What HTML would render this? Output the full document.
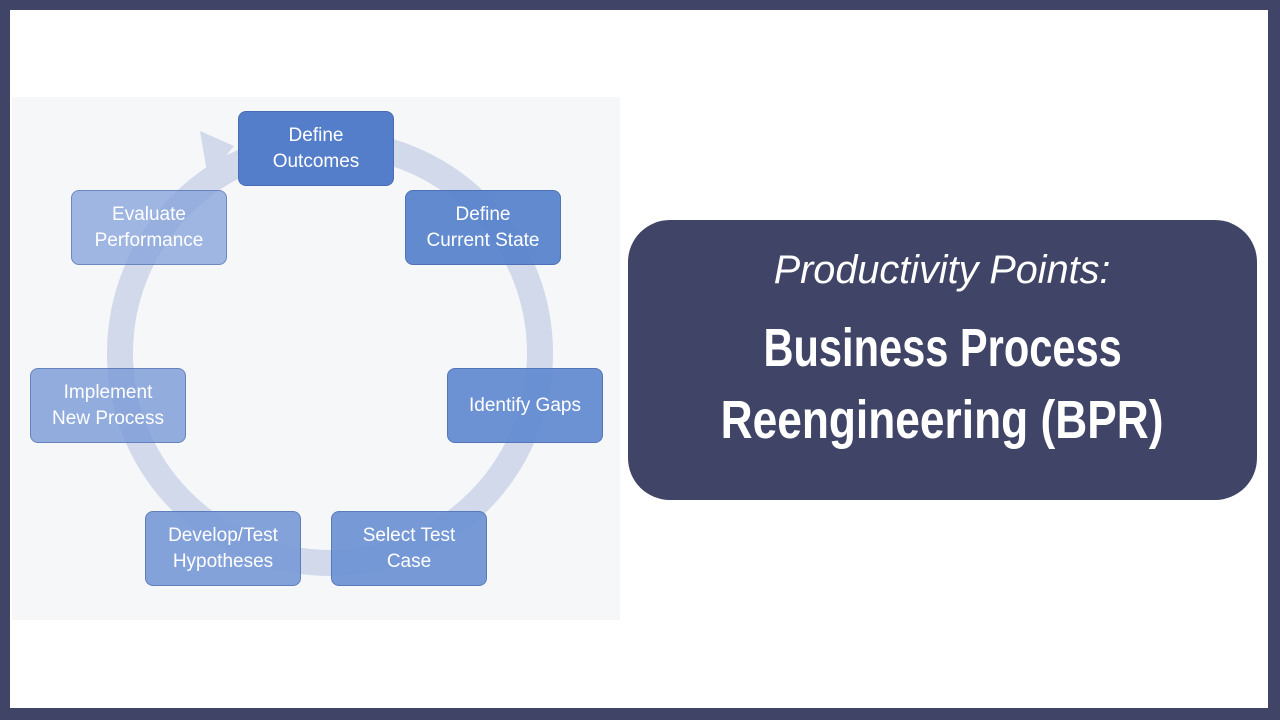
<!DOCTYPE html>
<html><head><meta charset="utf-8"><style>
html,body{margin:0;padding:0}
body{width:1280px;height:720px;background:#404466;position:relative;overflow:hidden;font-family:"Liberation Sans",sans-serif}
.inner{position:absolute;left:10px;top:10px;width:1258px;height:698px;background:#fff}
.panel{position:absolute;left:12px;top:97px;width:608px;height:523px;background:#f5f7f9}
.box{position:absolute;width:156px;height:75px;border-radius:8px;color:#fff;display:flex;align-items:center;justify-content:center;text-align:center;font-size:19px;line-height:26px;box-sizing:border-box;border:1px solid rgba(60,90,160,.5)}
.card{position:absolute;left:628px;top:220px;width:629px;height:280px;border-radius:42px;background:#404466;color:#fff;text-align:center}
.l{position:absolute;left:0;width:100%;white-space:nowrap}
.l span{display:inline-block}
</style></head><body>
<div class="inner"></div>
<div class="panel"></div>
<svg style="position:absolute;left:0;top:0" width="1280" height="720">
<circle cx="330" cy="353" r="210" fill="none" stroke="#d1d9ea" stroke-width="26"/>
<polygon points="234,146 200,131 208,178" fill="#d1d9ea"/>
</svg>
<div class="box" style="left:238px;top:111px;background:rgba(79,122,200,.97)">Define<br>Outcomes</div>
<div class="box" style="left:405px;top:190px;background:rgba(90,132,204,.95)">Define<br>Current State</div>
<div class="box" style="left:447px;top:368px;background:rgba(97,138,208,.93)">Identify Gaps</div>
<div class="box" style="left:331px;top:511px;background:rgba(107,145,210,.92)">Select Test<br>Case</div>
<div class="box" style="left:145px;top:511px;background:rgba(120,152,214,.9)">Develop/Test<br>Hypotheses</div>
<div class="box" style="left:30px;top:368px;background:rgba(120,152,214,.8)">Implement<br>New Process</div>
<div class="box" style="left:71px;top:190px;background:rgba(130,160,218,.75)">Evaluate<br>Performance</div>
<div class="card">
<div class="l" style="top:28px;font-size:40px;font-style:italic"><span style="transform:scaleX(.99)">Productivity Points:</span></div>
<div class="l" style="top:97px;font-size:54px;font-weight:bold"><span style="transform:scaleX(.77)">Business Process</span></div>
<div class="l" style="top:169px;font-size:54px;font-weight:bold"><span style="transform:scaleX(.82)">Reengineering (BPR)</span></div>
</div>
</body></html>
